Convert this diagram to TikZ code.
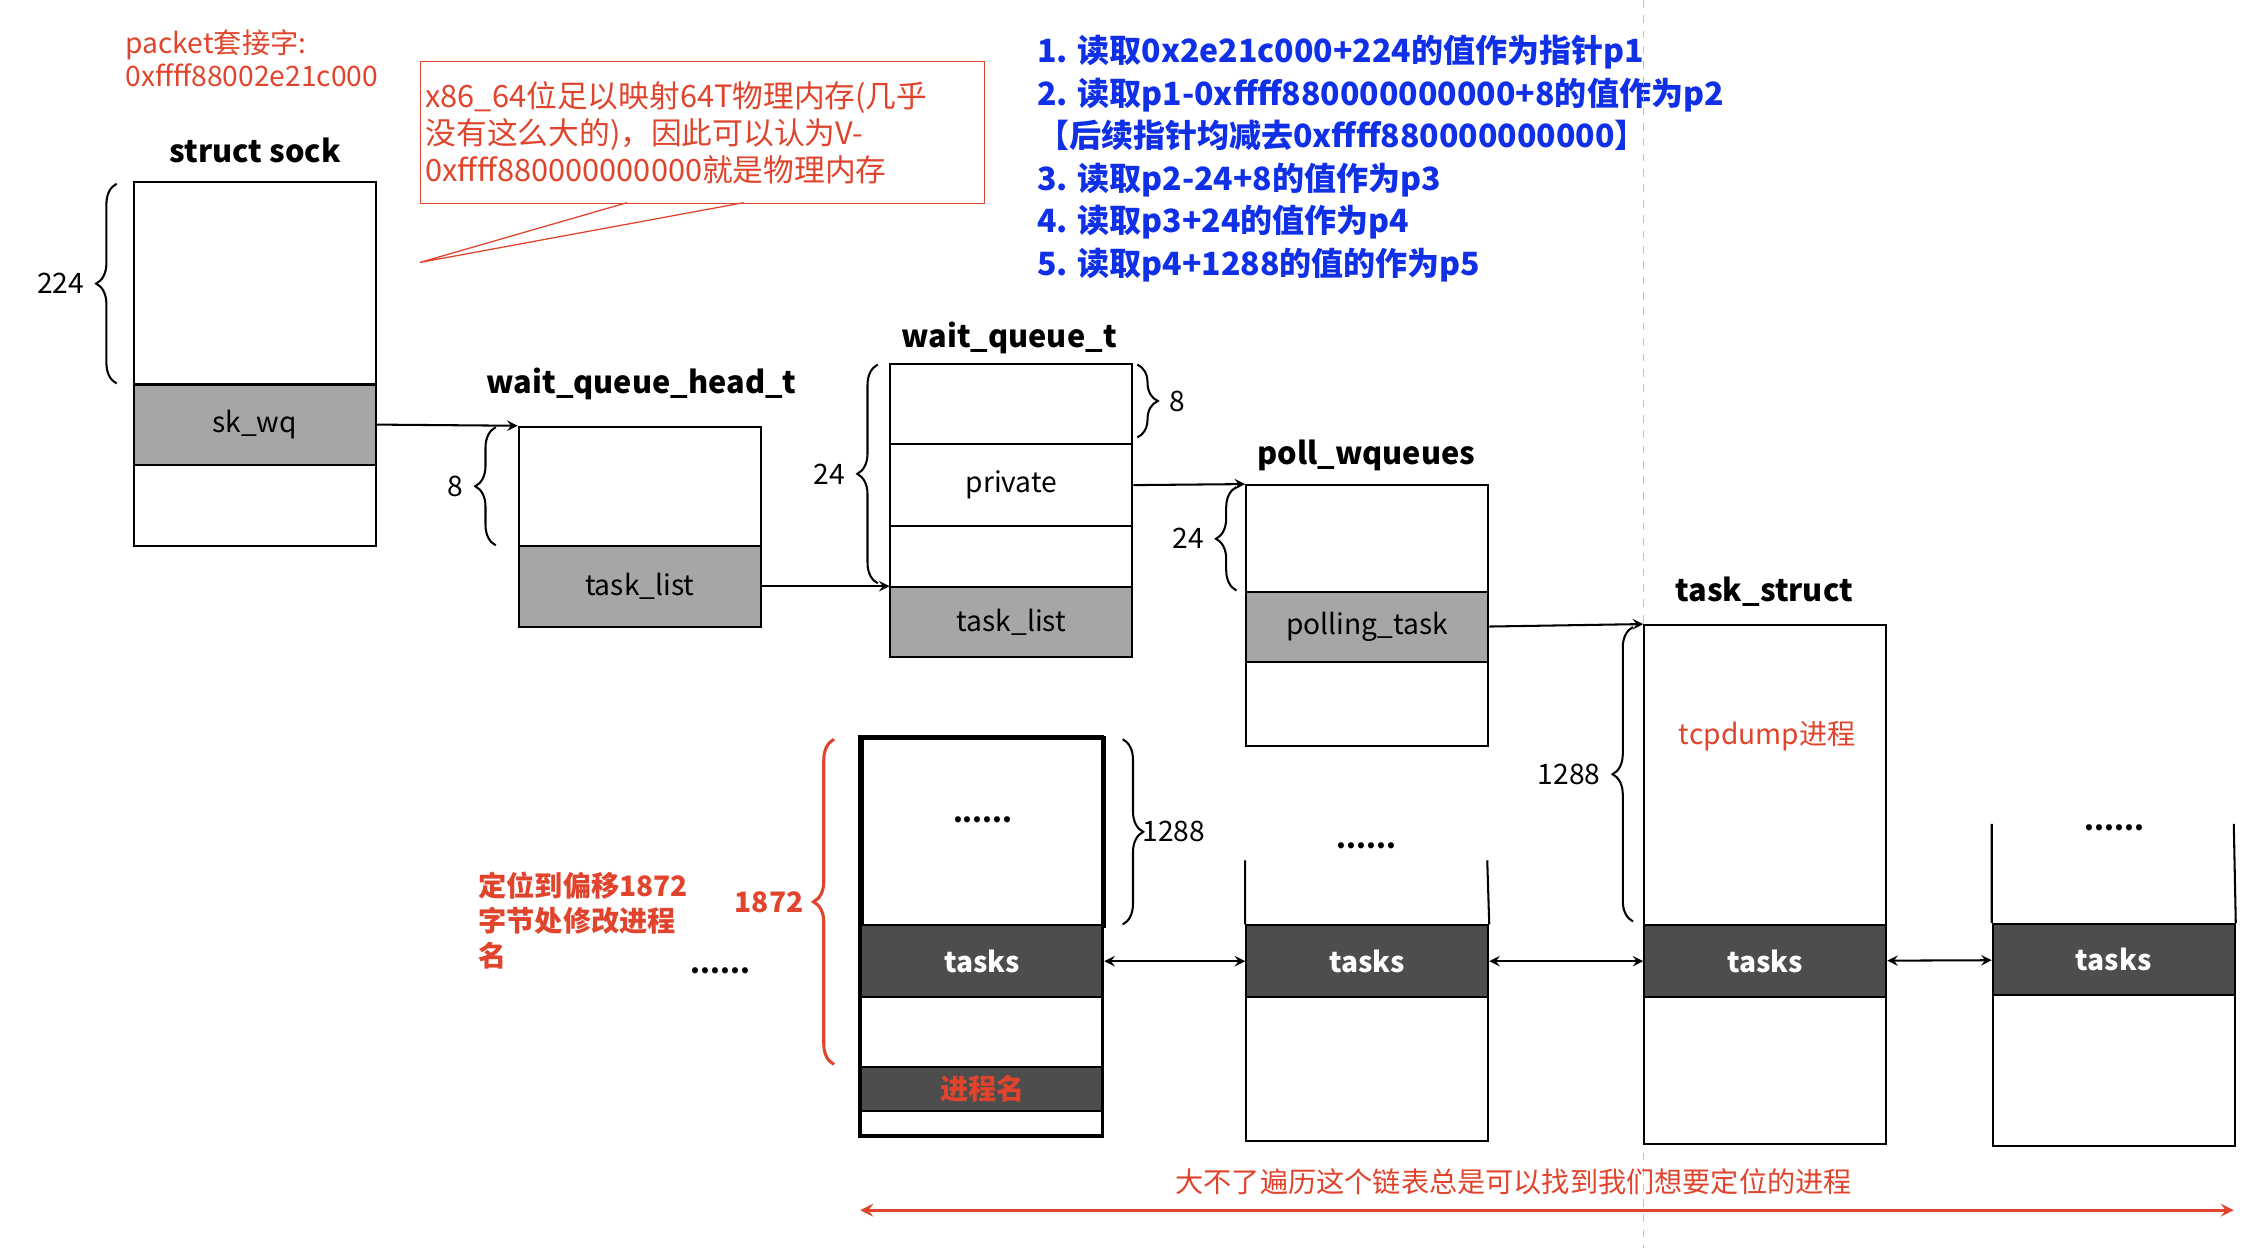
\documentclass[tikz,border=0pt]{standalone}
\usepackage{fontspec}
\setmainfont{Noto Sans CJK SC}
\usetikzlibrary{decorations.pathreplacing}
\definecolor{cellgray}{HTML}{A6A6A6}
\definecolor{darkcell}{HTML}{4D4D4D}
\definecolor{notered}{HTML}{E0442C}
\definecolor{stepblue}{HTML}{1030E8}
\begin{document}
\begin{tikzpicture}[x=0.02cm, y=-0.02cm,
    cell/.style={draw, line width=0.8pt, minimum width=3.32cm, inner sep=0pt, anchor=north west, font=\fontsize{11}{13}\selectfont},
    gcell/.style={cell, fill=cellgray},
    dcell/.style={cell, fill=darkcell, text=white, font=\fontsize{11}{13}\selectfont\bfseries},
    title/.style={font=\fontsize{12}{14}\selectfont\bfseries},
    lbl/.style={font=\fontsize{11}{13}\selectfont},
    brace/.style={decorate, decoration={brace, amplitude=8pt}, line width=0.8pt},
    arrow/.style={->, >=stealth, line width=0.8pt},
    link/.style={<->, >=stealth, line width=0.8pt}
  ]
  \useasboundingbox (0,0) rectangle (1550,856);

  % struct sock
  \node[title] (socktitle) at (175,103) {struct sock};
  \node[cell, minimum height=2.78cm] (sock1) at (91,124) {};
  \node[gcell, minimum height=1.1cm] (skwq) at (91,263) {sk\_wq};
  \node[cell, minimum height=1.12cm] (sock3) at (91,318) {};
  \draw[brace] (80,263) -- (80,126) node[midway, left=9pt, lbl] (n224) {224};
  \node[text=notered, anchor=west, lbl, align=left] (packet) at (80,40) {packet套接字:\\0xffff88002e21c000};

  % note
  \node[draw=notered, text=notered, anchor=north west, text width=7.6cm, minimum height=1.94cm, align=left, inner sep=2pt, font=\fontsize{12}{14.5}\selectfont] (note) at (288,42) {x86\_64位足以映射64T物理内存(几乎\\没有这么大的)，因此可以认为V-\\0xffff880000000000就是物理内存};
  \coordinate (tip) at (288,180);
  \draw[notered, line width=0.5pt] (430,139) -- (tip) -- (510,139);

  % steps
  \node[text=stepblue, anchor=north west, align=left, font=\fontsize{12.5}{16.6}\selectfont\bfseries] (steps) at (705,18) {1. 读取0x2e21c000+224的值作为指针p1\\2. 读取p1-0xffff880000000000+8的值作为p2\\ 【后续指针均减去0xffff880000000000】\\3. 读取p2-24+8的值作为p3\\4. 读取p3+24的值作为p4\\5. 读取p4+1288的值的作为p5};
  \draw[gray!50, dashed] (1127,0) -- (1127,856);

  % wait_queue_head_t
  \node[title] (wqhtitle) at (440,263) {wait\_queue\_head\_t};
  \node[cell, minimum height=1.64cm] (wqh1) at (355,292) {};
  \node[gcell, minimum height=1.1cm] (wqhlist) at (355,374) {task\_list};
  \draw[brace] (340,374) -- (340,293) node[midway, left=9pt, lbl] (n8a) {8};
  \draw[arrow] (skwq.east) -- (wqh1.north west);

  % wait_queue_t
  \node[title] (wqtitle) at (692,232) {wait\_queue\_t};
  \node[cell, minimum height=1.1cm] (wq1) at (610,249) {};
  \node[cell, minimum height=1.12cm] (wqpriv) at (610,304) {private};
  \node[cell, minimum height=0.84cm] (wq3) at (610,360) {};
  \node[gcell, minimum height=0.96cm] (wqlist) at (610,402) {task\_list};
  \draw[brace] (780,250) -- (780,300) node[midway, right=9pt, lbl] (n8b) {8};
  \draw[brace] (602,400) -- (602,250) node[midway, left=9pt, lbl] (n24a) {24};
  \draw[arrow] (wqhlist.east |- wqlist.north west) -- (wqlist.north west);

  % poll_wqueues
  \node[title] (pwtitle) at (937,312) {poll\_wqueues};
  \node[cell, minimum height=1.46cm] (pw1) at (854,332) {};
  \node[gcell, minimum height=0.96cm] (pwtask) at (854,405) {polling\_task};
  \node[cell, minimum height=1.16cm] (pw3) at (854,453) {};
  \draw[brace] (848,405) -- (848,334) node[midway, left=9pt, lbl] (n24b) {24};
  \draw[arrow] (wqpriv.east) -- (pw1.north west);

  % task_struct
  \node[title] (tstitle) at (1210,406) {task\_struct};
  \node[cell, minimum height=4.12cm] (ts1) at (1127,428) {};
  \node[text=notered, lbl] (tcpdump) at (1212,505) {tcpdump进程};
  \node[dcell, minimum height=0.98cm] (tstasks) at (1127,634) {tasks};
  \node[cell, minimum height=2.02cm] (ts3) at (1127,683) {};
  \draw[brace] (1120,632) -- (1120,430) node[midway, left=9pt, lbl] (n1288a) {1288};
  \draw[arrow] (pwtask.east) -- (ts1.north west);

  % target process
  \node[cell, line width=1.4pt, minimum height=2.58cm] (tg1) at (590,505) {};
  \node[lbl] (tgdots) at (674,562) {\textbf{......}};
  \node[dcell, minimum height=0.98cm] (tgtasks) at (590,634) {tasks};
  \node[cell, minimum height=0.96cm] (tg3) at (590,683) {};
  \node[dcell, text=notered, minimum height=0.6cm] (tgname) at (590,731) {进程名};
  \draw[line width=1.4pt] (tg1.north west) rectangle (756,779);
  \draw[brace] (770,507) -- (770,634) node[midway, right=4pt, lbl] (n1288b) {1288};
  \draw[brace, notered, line width=1.2pt] (572,730) -- (572,507) node[midway, left=8pt, font=\fontsize{11}{13}\selectfont\bfseries] (n1872) {1872};
  \node[text=notered, anchor=north west, align=left, font=\fontsize{11}{13.5}\selectfont\bfseries] (modify) at (322,592) {定位到偏移1872\\字节处修改进程\\名};
  \node[lbl] (leftdots) at (494,666) {\textbf{......}};

  % other processes
  \node[dcell, minimum height=0.98cm] (ptasks) at (854,634) {tasks};
  \node[cell, minimum height=1.98cm] (p3) at (854,683) {};
  \draw[line width=0.8pt] (854,590) -- (ptasks.north west) (1020,590) -- (ptasks.north east);
  \node[lbl] (pdots) at (937,580) {\textbf{......}};
  \node[dcell, minimum height=0.98cm] (qtasks) at (1366,633) {tasks};
  \node[cell, minimum height=2.06cm] (q3) at (1366,682) {};
  \draw[line width=0.8pt] (1366,565) -- (qtasks.north west) (1532,565) -- (qtasks.north east);
  \node[lbl] (qdots) at (1450,568) {\textbf{......}};

  \draw[link] (tgtasks) -- (ptasks);
  \draw[link] (ptasks) -- (tstasks);
  \draw[link] (tstasks) -- (qtasks);

  % traversal
  \coordinate (travl) at (590,830);
  \coordinate (travr) at (1532,830);
  \draw[<->, >=stealth, notered, line width=1.2pt] (travl) -- (travr) node[midway, above=2pt, lbl, xshift=-13pt] (travtext) {大不了遍历这个链表总是可以找到我们想要定位的进程};
\end{tikzpicture}
\end{document}
